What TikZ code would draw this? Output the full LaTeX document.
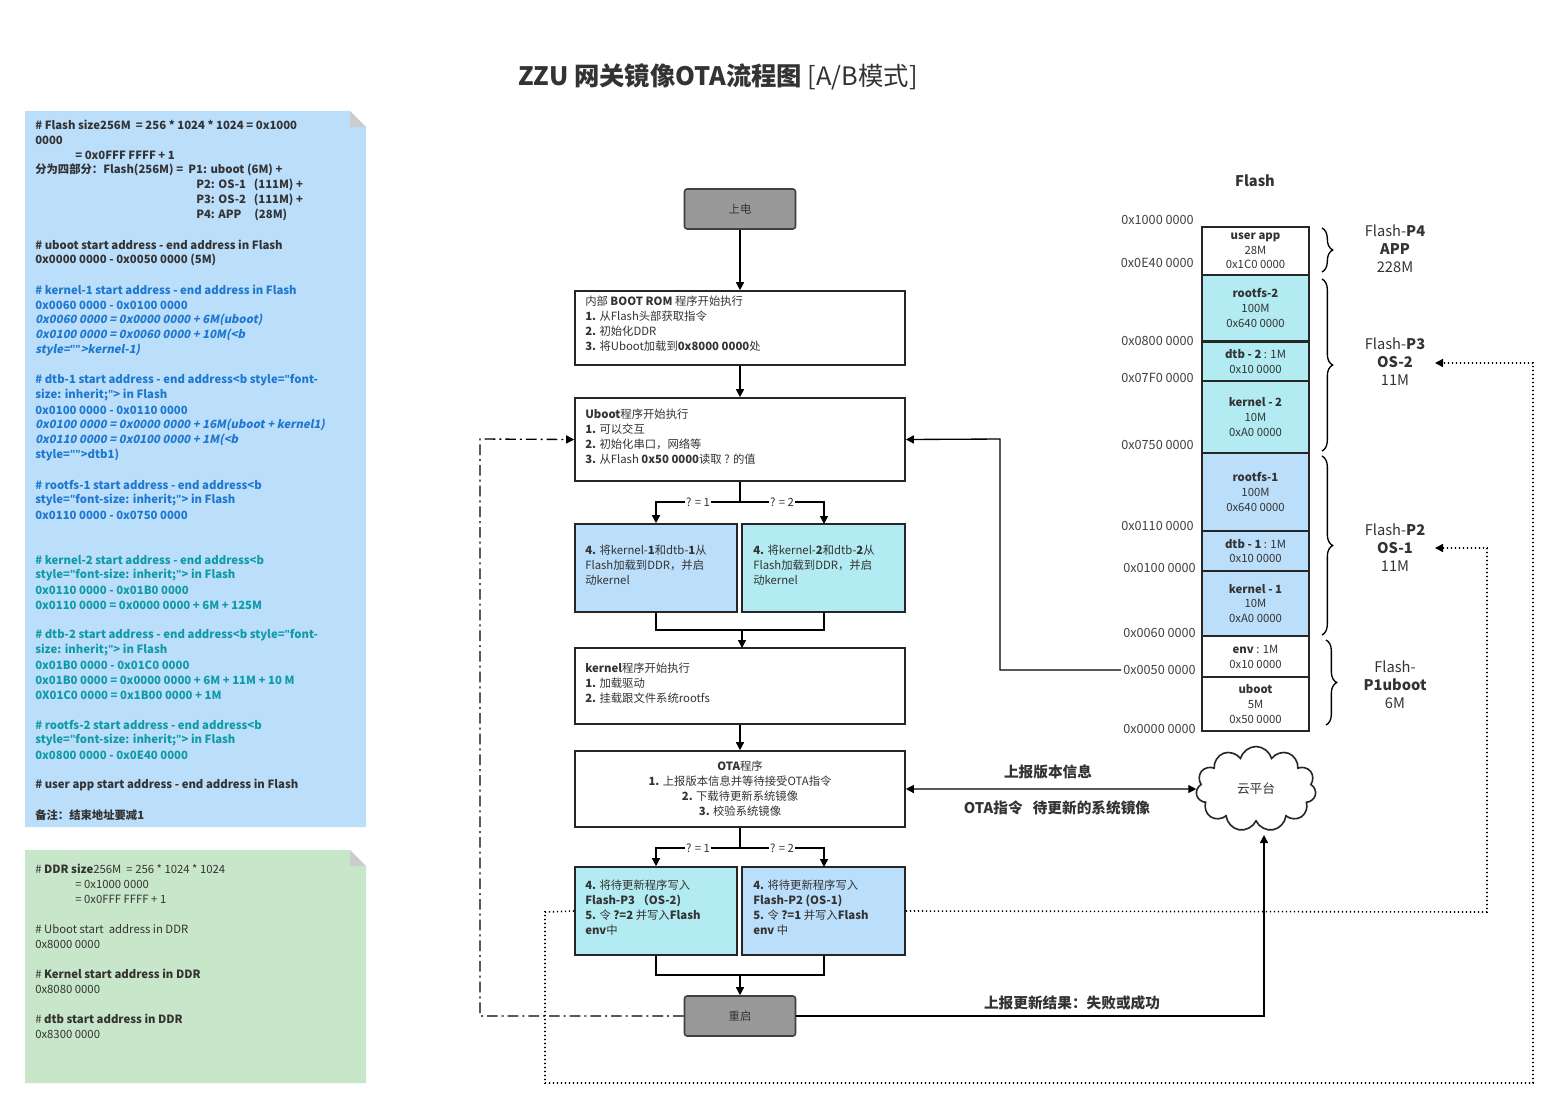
\documentclass[tikz,border=0pt]{standalone}
\usepackage{fontspec}
\setmainfont{Noto Sans CJK SC}
\newfontfamily\slf{Noto Sans CJK SC}[FakeSlant=0.2]
\newfontfamily\latf{Open Sans}
\newcommand{\dq}{{\latf\bfseries"}}
\usetikzlibrary{arrows.meta,decorations.pathreplacing,shapes.symbols}
\definecolor{nblue}{HTML}{BBDEFB}
\definecolor{ngreen}{HTML}{C8E6C9}
\definecolor{bblue}{HTML}{BBDEFB}
\definecolor{bcyan}{HTML}{B2EBF2}
\definecolor{tx}{HTML}{333333}
\definecolor{tb}{HTML}{1E78D0}
\definecolor{tt}{HTML}{0E9AA7}
\definecolor{gbox}{HTML}{999999}
\begin{document}
\begin{tikzpicture}[x=0.75pt,y=-0.75pt,
 every node/.style={text=tx,font=\fontsize{8.5}{11.25}\selectfont,inner sep=0pt},
 ln/.style={anchor=west},
 box/.style={draw=black!85,line width=1.2pt,fill=white},
 gbtn/.style={draw=black!75,line width=1.2pt,fill=gbox,rounded corners=2pt},
 arr/.style={line width=1pt,-{Triangle[length=6pt,width=6pt]}},
 ln1/.style={line width=1pt},
 addr/.style={anchor=east,font=\fontsize{9.5}{12}\selectfont,text=black!75},
 cell/.style={draw=black!85,line width=1.2pt,align=center,font=\fontsize{8.5}{11}\selectfont},
 plab/.style={align=center,font=\fontsize{11}{13.5}\selectfont},
 br/.style={decorate,decoration={brace,amplitude=8pt},line width=1pt},
 qlab/.style={fill=white,inner sep=1pt,font=\fontsize{8.5}{10}\selectfont}]
\useasboundingbox (0,0) rectangle (1559,1108);
% title
\node (title) at (718,77) {\fontsize{19}{22}\selectfont\textbf{ZZU 网关镜像OTA流程图} [A/B模式]};
% blue note
\fill[nblue] (25,111) -- (350,111) -- (366,127) -- (366,827) -- (25,827) -- cycle;
\fill[black!20] (350,111) -- (366,127) -- (350,127) -- cycle;
\begin{scope}[every node/.append style={font=\fontsize{8.5}{11.25}\selectfont\bfseries}]
\node[ln] at (35,125) {\# Flash size256M\ \ = 256 * 1024 * 1024 = 0x1000};
\node[ln] at (35,140) {0000};
\node[ln] at (75,155) {= 0x0FFF FFFF + 1};
\node[ln] at (35,170) {分为四部分：Flash(256M) =\ \ P1: uboot (6M)\ +};
\node[ln] at (196,185) {P2: OS-1\ \ \ (111M)\ +};
\node[ln] at (196,200) {P3: OS-2\ \ \ (111M)\ +};
\node[ln] at (196,215) {P4: APP\ \ \ \ \ (28M)};
\node[ln] at (35,245) {\# uboot start address - end address in Flash};
\node[ln] at (35,260) {0x0000 0000 - 0x0050 0000 (5M)};
\begin{scope}[every node/.append style={text=tb}]
\node[ln] at (35,290) {\# kernel-1 start address - end address in Flash};
\node[ln] at (35,305) {0x0060 0000 - 0x0100 0000};
\node[ln] at (35,320) {\slf\bfseries 0x0060 0000 = 0x0000 0000 + 6M(uboot)};
\node[ln] at (35,335) {\slf\bfseries 0x0100 0000 = 0x0060 0000 + 10M(<b};
\node[ln] at (35,350) {\slf\bfseries style=\dq\dq>kernel-1)};
\node[ln] at (35,380) {\# dtb-1 start address - end address<b style=\dq font-};
\node[ln] at (35,395) {size: inherit;\dq> in Flash};
\node[ln] at (35,410) {0x0100 0000 - 0x0110 0000};
\node[ln] at (35,425) {\slf\bfseries 0x0100 0000 = 0x0000 0000 + 16M(uboot + kernel1)};
\node[ln] at (35,440) {\slf\bfseries 0x0110 0000 = 0x0100 0000 + 1M(<b};
\node[ln] at (35,455) {style=\dq\dq>dtb1)};
\node[ln] at (35,485) {\# rootfs-1 start address - end address<b};
\node[ln] at (35,500) {style=\dq font-size: inherit;\dq> in Flash};
\node[ln] at (35,515) {0x0110 0000 - 0x0750 0000};
\end{scope}
\begin{scope}[every node/.append style={text=tt}]
\node[ln] at (35,560) {\# kernel-2 start address - end address<b};
\node[ln] at (35,575) {style=\dq font-size: inherit;\dq> in Flash};
\node[ln] at (35,590) {0x0110 0000 - 0x01B0 0000};
\node[ln] at (35,605) {0x0110 0000 = 0x0000 0000 + 6M + 125M};
\node[ln] at (35,635) {\# dtb-2 start address - end address<b style=\dq font-};
\node[ln] at (35,650) {size: inherit;\dq> in Flash};
\node[ln] at (35,665) {0x01B0 0000 - 0x01C0 0000};
\node[ln] at (35,680) {0x01B0 0000 = 0x0000 0000 + 6M + 11M + 10 M};
\node[ln] at (35,695) {0X01C0 0000 = 0x1B00 0000 + 1M};
\node[ln] at (35,725) {\# rootfs-2 start address - end address<b};
\node[ln] at (35,740) {style=\dq font-size: inherit;\dq> in Flash};
\node[ln] at (35,755) {0x0800 0000 - 0x0E40 0000};
\end{scope}
\node[ln] at (35,785) {\# user app start address - end address in Flash};
\node[ln] at (35,815) {备注：结束地址要减1};
\end{scope}
% green note
\fill[ngreen] (25,850) -- (350,850) -- (366,866) -- (366,1083) -- (25,1083) -- cycle;
\fill[black!20] (350,850) -- (366,866) -- (350,866) -- cycle;
\node[ln] at (35,869) {\# \textbf{DDR size}256M\ \ = 256 * 1024 * 1024};
\node[ln] at (75,884) {= 0x1000 0000};
\node[ln] at (75,899) {= 0x0FFF FFFF + 1};
\node[ln] at (35,929) {\# Uboot start\ \ address in DDR};
\node[ln] at (35,944) {0x8000 0000};
\node[ln] at (35,974) {\# \textbf{Kernel start address in DDR}};
\node[ln] at (35,989) {0x8080 0000};
\node[ln] at (35,1019) {\# \textbf{dtb start address in DDR}};
\node[ln] at (35,1034) {0x8300 0000};
% flowchart
\node[gbtn,minimum width=111*0.75pt,minimum height=40*0.75pt] (on) at (740,209) {上电};
\node[box,minimum width=330*0.75pt,minimum height=74*0.75pt] (rom) at (740,328) {};
\node[anchor=north west,align=left] at (585,296) {内部 \textbf{BOOT ROM} 程序开始执行\\\textbf{1.} 从Flash头部获取指令\\\textbf{2.} 初始化DDR\\\textbf{3.} 将Uboot加载到\textbf{0x8000 0000}处};
\node[box,minimum width=330*0.75pt,minimum height=83*0.75pt] (ub) at (740,439.5) {};
\node[anchor=north west,align=left] at (585,409) {\textbf{Uboot}程序开始执行\\\textbf{1.} 可以交互\\\textbf{2.} 初始化串口，网络等\\\textbf{3.} 从Flash \textbf{0x50 0000}读取 ? 的值};
\node[box,fill=bblue,minimum width=162*0.75pt,minimum height=88*0.75pt] (k1) at (656,568) {};
\node[anchor=north west,align=left] at (585,545) {\textbf{4.} 将kernel-\textbf{1}和dtb-\textbf{1}从\\Flash加载到DDR，并启\\动kernel};
\node[box,fill=bcyan,minimum width=163*0.75pt,minimum height=88*0.75pt] (k2) at (823.5,568) {};
\node[anchor=north west,align=left] at (753,545) {\textbf{4.} 将kernel-\textbf{2}和dtb-\textbf{2}从\\Flash加载到DDR，并启\\动kernel};
\node[box,minimum width=330*0.75pt,minimum height=76*0.75pt] (kr) at (740,686) {};
\node[anchor=north west,align=left] at (585,663) {\textbf{kernel}程序开始执行\\\textbf{1.} 加载驱动\\\textbf{2.} 挂载跟文件系统rootfs};
\node[box,minimum width=330*0.75pt,minimum height=76*0.75pt,align=center] (ota) at (740,789) {\textbf{OTA}程序\\\textbf{1.} 上报版本信息并等待接受OTA指令\\\textbf{2.} 下载待更新系统镜像\\\textbf{3.} 校验系统镜像};
\node[box,fill=bcyan,minimum width=162*0.75pt,minimum height=88*0.75pt] (w2) at (656,911) {};
\node[anchor=north west,align=left] at (585,880) {\textbf{4.} 将待更新程序写入\\\textbf{Flash-P3\ （OS-2)}\\\textbf{5.} 令 \textbf{?=2} 并写入\textbf{Flash}\\\textbf{env}中};
\node[box,fill=bblue,minimum width=163*0.75pt,minimum height=88*0.75pt] (w1) at (823.5,911) {};
\node[anchor=north west,align=left] at (753,880) {\textbf{4.} 将待更新程序写入\\\textbf{Flash-P2 (OS-1)}\\\textbf{5.} 令 \textbf{?=1} 并写入\textbf{Flash}\\\textbf{env} 中};
\node[gbtn,minimum width=111*0.75pt,minimum height=40*0.75pt] (rb) at (740,1016) {重启};
\node[cloud,draw=black!85,line width=1.2pt,fill=white,cloud puffs=11,aspect=1.4,minimum width=120*0.75pt,minimum height=85*0.75pt] (cloud) at (1256,789) {\fontsize{9.5}{11}\selectfont 云平台};
% flowchart connectors
\draw[arr] (on) -- (rom);
\draw[arr] (rom) -- (ub);
\coordinate (s1) at (740,502);
\draw[ln1] (ub) -- (s1);
\draw[arr] (s1) -- (656,502) -- (k1.north);
\draw[arr] (s1) -- (824,502) -- (824,524);
\node[qlab] (q1) at (698,502) {? = 1};
\node[qlab] (q2) at (782,502) {? = 2};
\coordinate (j1) at (742,630);
\draw[ln1] (k1.south) -- (656,630) -- (824,630) -- (824,612);
\draw[arr] (j1) -- (742,648);
\draw[arr] (kr) -- (ota);
\coordinate (s2) at (740,848);
\draw[ln1] (ota) -- (s2);
\draw[arr] (s2) -- (656,848) -- (w2.north);
\draw[arr] (s2) -- (824,848) -- (824,867);
\node[qlab] (q3) at (698,848) {? = 1};
\node[qlab] (q4) at (782,848) {? = 2};
\coordinate (j2) at (740,975);
\draw[ln1] (w2.south) -- (656,975) -- (824,975) -- (824,955);
\draw[arr] (j2) -- (rb);
% flash
\node[font=\fontsize{11}{13}\selectfont\bfseries] (ft) at (1255,181) {Flash};
\begin{scope}[every node/.append style={cell}]
\node[fill=white,minimum width=107*0.75pt,minimum height=48*0.75pt] (c1) at (1255.5,251) {\textbf{user app}\\28M\\0x1C0 0000};
\node[fill=bcyan,minimum width=107*0.75pt,minimum height=66*0.75pt] (c2) at (1255.5,308) {\textbf{rootfs-2}\\100M\\0x640 0000};
\node[fill=bcyan,minimum width=107*0.75pt,minimum height=39*0.75pt] (c3) at (1255.5,361.5) {\textbf{dtb\ -\ 2} : 1M\\0x10 0000};
\node[fill=bcyan,minimum width=107*0.75pt,minimum height=72*0.75pt] (c4) at (1255.5,417) {\textbf{kernel\ -\ 2}\\10M\\0xA0 0000};
\node[fill=bblue,minimum width=107*0.75pt,minimum height=78*0.75pt] (c5) at (1255.5,492) {\textbf{rootfs-1}\\100M\\0x640 0000};
\node[fill=bblue,minimum width=107*0.75pt,minimum height=40*0.75pt] (c6) at (1255.5,551) {\textbf{dtb\ -\ 1} : 1M\\0x10 0000};
\node[fill=bblue,minimum width=107*0.75pt,minimum height=65*0.75pt] (c7) at (1255.5,603.5) {\textbf{kernel\ -\ 1}\\10M\\0xA0 0000};
\node[fill=white,minimum width=107*0.75pt,minimum height=42*0.75pt] (c8) at (1255.5,657) {\textbf{env} : 1M\\0x10 0000};
\node[fill=white,minimum width=107*0.75pt,minimum height=54*0.75pt] (c9) at (1255.5,704) {\textbf{uboot}\\5M\\0x50 0000};
\end{scope}
\node[addr] (a1) at (1194,220) {0x1000 0000};
\node[addr] (a2) at (1194,263) {0x0E40 0000};
\node[addr] (a3) at (1194,341) {0x0800 0000};
\node[addr] (a4) at (1194,378) {0x07F0 0000};
\node[addr] (a5) at (1194,445) {0x0750 0000};
\node[addr] (a6) at (1194,526) {0x0110 0000};
\node[addr] (a7) at (1196,568) {0x0100 0000};
\node[addr] (a8) at (1196,633) {0x0060 0000};
\node[addr] (a9) at (1196,670) {0x0050 0000};
\node[addr] (a10) at (1196,729) {0x0000 0000};
\draw[br] (1322,228) -- (1322,272);
\draw[br] (1322,279) -- (1322,451);
\draw[br] (1322,456) -- (1322,635);
\draw[br] (1326,640) -- (1326,725);
\node[plab] (p4) at (1395,249) {Flash-\textbf{P4}\\\textbf{APP}\\228M};
\node[plab] (p3) at (1395,362) {Flash-\textbf{P3}\\\textbf{OS-2}\\11M};
\node[plab] (p2) at (1395,548) {Flash-\textbf{P2}\\\textbf{OS-1}\\11M};
\node[plab] (p1) at (1395,685) {Flash-\\\textbf{P1uboot}\\6M};
% cross connectors
\draw[arr] (a9.west) ++(-2,0) -- (1000,670) -- (1000,439) -- (ub.east);
\draw[arr,dash pattern=on 8pt off 3pt on 1.5pt off 3pt] (rb.west) -- (480,1016) -- (480,439) -- (ub.west);
\draw[line width=1pt,{Triangle[length=6pt,width=6pt]}-{Triangle[length=6pt,width=6pt]}] (ota.east) -- (cloud.west);
\node[font=\fontsize{11}{13}\selectfont\bfseries] (l1) at (1048,772) {上报版本信息};
\node[font=\fontsize{11}{13}\selectfont\bfseries] (l2) at (1057,808) {OTA指令\ \ \ 待更新的系统镜像};
\draw[arr] (rb.east) -- (1264,1016) -- (1264,835);
\node[font=\fontsize{11}{13}\selectfont\bfseries] (l3) at (1072,1003) {上报更新结果：失败或成功};
\draw[arr,dotted,line width=1.2pt] (w1.east) -- (1487,912) -- (1487,548) -- (1435,548);
\draw[arr,dotted,line width=1.2pt] (w2.west) -- (545,912) -- (545,1083) -- (1533,1083) -- (1533,363) -- (1435,363);
\end{tikzpicture}
\end{document}
